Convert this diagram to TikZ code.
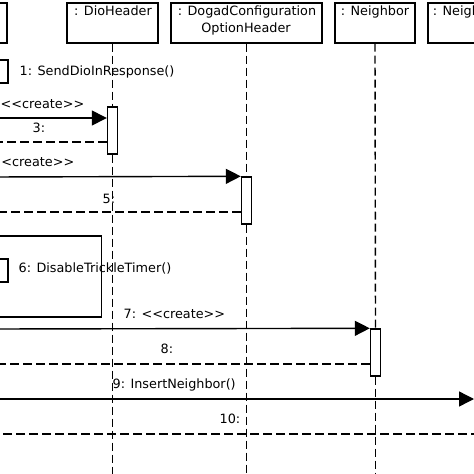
\documentclass[tikz,border=0pt]{standalone}
\usepackage{fontspec}
\setmainfont{DejaVu Sans}
\usetikzlibrary{arrows.meta}
\newcommand{\crt}{{<}{<}create{>}{>}}
\begin{document}
\begin{tikzpicture}[x=1pt,y=-1pt,line width=1.4pt,
  every node/.style={font=\fontsize{12.8}{15}\selectfont},
  hdr/.style={draw,rectangle,inner sep=0pt},
  txt/.style={inner sep=0pt,anchor=base west},
  ctxt/.style={inner sep=0pt,anchor=base},
  actbox/.style={draw,fill=white,rectangle,inner sep=0pt,minimum width=10pt,minimum height=47pt},
  lifeline/.style={dash pattern=on 8pt off 4pt},
  msg/.style={-{Triangle[length=15pt,width=15pt]}},
  ret/.style={dash pattern=on 9pt off 4pt}]
\useasboundingbox (0,0) rectangle (474,474);
\clip (0,0) rectangle (474,474);
% header boxes
\node[hdr,minimum width=100pt,minimum height=40pt] (h0) at (-43,23) {};
\node[hdr,minimum width=91pt,minimum height=40pt] (hdio) at (112.5,23) {};
\node[hdr,minimum width=151pt,minimum height=40pt] (hdog) at (246.5,23) {};
\node[hdr,minimum width=80pt,minimum height=40pt] (hnb) at (375,23) {};
\node[hdr,minimum width=80pt,minimum height=40pt] (hnb2) at (468,23) {};
\node[ctxt] (tdio) at (113,15) {: DioHeader};
\node[ctxt] (tdog1) at (247,15) {: DogadConfiguration};
\node[ctxt] (tdog2) at (246,32) {OptionHeader};
\node[ctxt] (tnb) at (375,15) {: Neighbor};
\node[ctxt] (tnb2) at (467,15) {: Neighbor};
% activation boxes
\node[actbox] (adio) at (112.5,130.5) {};
\node[actbox] (adog) at (246.5,200.5) {};
\node[actbox] (anb) at (375.5,352.5) {};
% lifelines ends
\coordinate (edio) at (112.5,474);
\coordinate (edog) at (246.5,474);
\coordinate (enb) at (375.5,474);
\draw[lifeline] (hdio.south) -- (adio.north);
\draw[lifeline] (adio.south) -- (edio);
\draw[lifeline] (hdog.south) -- (adog.north);
\draw[lifeline] (adog.south) -- (edog);
\draw[lifeline] (hnb.south) -- (anb.north);
\draw[lifeline] (anb.south) -- (enb);
% self-call boxes on the left
\node[hdr,minimum width=28pt,minimum height=23pt] (s1) at (-6,71.5) {};
\node[hdr,minimum width=28pt,minimum height=23pt] (s6) at (-6,270.5) {};
% frame
\node[hdr,minimum width=141pt,minimum height=81pt] (frame) at (31,276.5) {};
% left free ends
\coordinate (l2) at (-10,118);
\coordinate (l3) at (-10,142);
\coordinate (l4) at (-10,177);
\coordinate (l5) at (-10,212);
\coordinate (l7) at (-10,329);
\coordinate (l8) at (-10,364);
\coordinate (l9) at (-10,399);
\coordinate (r9) at (474,399);
\coordinate (l10) at (-10,434);
\coordinate (r10) at (480,434);
% messages
\draw[msg] (l2) -- (adio.west |- l2);
\draw[ret] (adio.west |- l3) -- (l3);
\draw[msg] (l4) -- (adog.north west);
\draw[ret] (adog.west |- l5) -- (l5);
\draw[msg] (l7) -- (anb.north west);
\draw[ret] (anb.west |- l8) -- (l8);
\draw[msg] (l9) -- (r9);
\draw[ret] (r10) -- (l10);
% labels
\node[txt] (m1) at (19,75) {1: SendDioInResponse()};
\node[txt] (m2) at (0,108) {\crt};
\node[txt] (m3) at (32,132) {3:};
\node[txt] (m4) at (-10,166) {\crt};
\node[txt] (m5) at (102,203) {5:};
\node[txt] (m6) at (18,272) {6: DisableTrickleTimer()};
\node[txt] (m7) at (123,318) {7: \crt};
\node[txt] (m8) at (160,353) {8:};
\node[txt] (m9) at (112,388) {9: InsertNeighbor()};
\node[txt] (m10) at (219,423) {10:};
\end{tikzpicture}
\end{document}
